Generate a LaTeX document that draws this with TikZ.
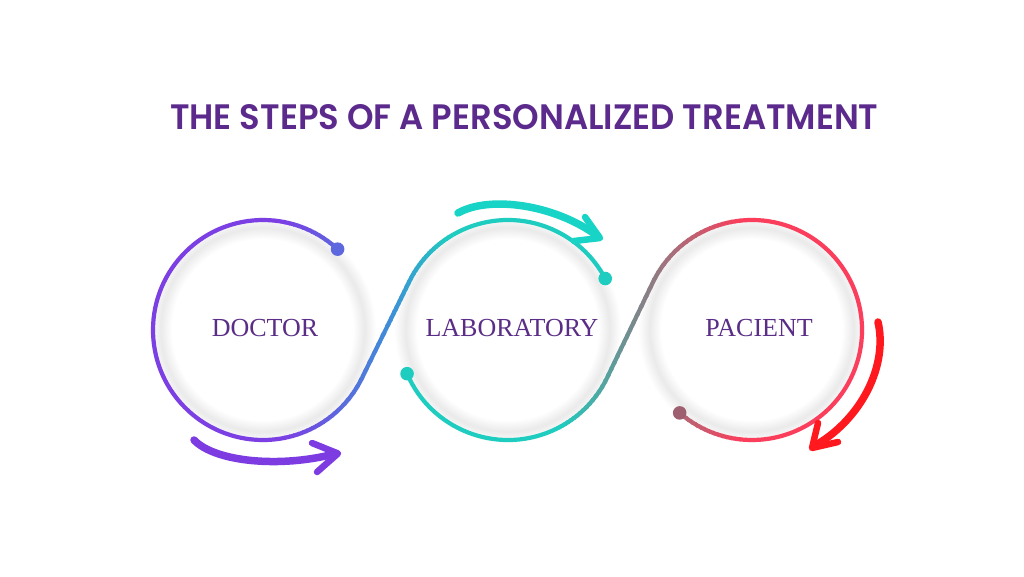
\documentclass[tikz,border=0pt]{standalone}
\usepackage{fontspec}
\setmainfont{Liberation Serif}
\newfontfamily\titlefont{Poppins SemiBold}
\usetikzlibrary{calc}
\definecolor{purpC}{RGB}{123,63,228}
\definecolor{blueC}{RGB}{63,142,216}
\definecolor{tealC}{RGB}{30,205,191}
\definecolor{greyC}{RGB}{122,136,140}
\definecolor{pinkC}{RGB}{250,62,92}
\definecolor{dotC}{RGB}{158,96,112}
\definecolor{arrPurp}{RGB}{124,60,226}
\definecolor{arrTeal}{RGB}{24,212,198}
\definecolor{arrRed}{RGB}{255,24,30}
\definecolor{titleC}{RGB}{91,42,140}
\definecolor{labC}{RGB}{90,45,134}
\tikzset{
  curve/.style={line width=4.2pt, line cap=round},
  brush/.style={line width=7.5pt, line cap=round, line join=round},
  barb/.style={line width=6.5pt, line cap=round, line join=round},
  lab/.style={font=\fontsize{26}{30}\selectfont, text=labC, anchor=base, inner sep=0pt},
  shade ring/.style={draw=black, opacity=0.009},
}
% gradient stroke by vertical strips: #1 path, #2 x0, #3 x1, #4 c0, #5 c1, #6 steps
\newcommand\gstroke[6]{%
  \pgfmathsetmacro\gdx{(#3-#2)/#6}%
  \foreach \i in {1,...,#6}{%
    \pgfmathsetmacro\xa{#2+(\i-1)*\gdx-0.6}%
    \pgfmathsetmacro\xb{#2+\i*\gdx+0.6}%
    \pgfmathtruncatemacro\pc{100*(\i-0.5)/#6}%
    \begin{scope}
      \clip (\xa,-5) rectangle (\xb,600);
      \draw[curve, draw=#5!\pc!#4] #1;
    \end{scope}
  }%
}
% #1 path, #2 x0, #3 xm, #4 x1, #5 c0, #6 cm, #7 c1
\newcommand\gradfull[7]{%
  \begin{scope}\clip (-5,-5) rectangle (#2+0.5,600); \draw[curve, draw=#5] #1; \end{scope}
  \gstroke{#1}{#2}{#3}{#5}{#6}{24}
  \gstroke{#1}{#3}{#4}{#6}{#7}{24}
  \begin{scope}\clip (#4-0.5,-5) rectangle (1030,600); \draw[curve, draw=#7] #1; \end{scope}
}
\begin{document}
\begin{tikzpicture}[x=1pt, y=-1pt]
\useasboundingbox (0,0) rectangle (1024,576);
\fill[white] (0,0) rectangle (1024,576);

\coordinate (C1) at (263,330);
\coordinate (C2) at (508,330);
\coordinate (C3) at (752,330);

% soft shadows (mostly on the inner side)
\foreach \c in {C1,C2,C3}{
  \foreach \k in {1,...,10}{
    \draw[shade ring, line width=2.2*\k] (\c) circle[radius=102];
  }
}

% title
\node[anchor=base west, inner sep=0pt, text=titleC] (title) at (170,129)
  {\resizebox{708pt}{25pt}{\titlefont THE STEPS OF A PERSONALIZED TREATMENT}};

% curve 1: doctor -> laboratory
\gradfull{(C1) ++(-47.3:110) arc[start angle=-47.3,end angle=-333.9,radius=110] -- ($(C2)+(-153.9:110)$) arc[start angle=-153.9,end angle=-27.9,radius=110]}{285}{390}{450}{purpC}{blueC}{tealC}

% curve 2: laboratory -> pacient
\gradfull{(C2) ++(156.6:110) arc[start angle=156.6,end angle=26.1,radius=110] -- ($(C3)+(-153.9:110)$) arc[start angle=-153.9,end angle=131.1,radius=110]}{560}{635}{740}{tealC}{greyC}{pinkC}

% end dots
\fill[blueC!50!purpC] ($(C1)+(-47.3:110)$) circle[radius=6.8];
\fill[tealC] ($(C2)+(-27.9:110)$) circle[radius=6.8];
\fill[tealC] ($(C2)+(156.6:110)$) circle[radius=6.8];
\fill[dotC] ($(C3)+(131.1:110)$) circle[radius=6.8];

% labels
\node[lab] (doctor) at (265,336.5) {DOCTOR};
\node[lab] (lab) at (512,336.5) {LABORATORY};
\node[lab] (pacient) at (759,336.5) {PACIENT};

% brush arrows
\coordinate (a1s) at (194,440);
\coordinate (a1e) at (334,454);
\coordinate (a1u) at (312,443);
\coordinate (a1t) at (338,453.5);
\coordinate (a1l) at (317,472);
\draw[brush, arrPurp] (a1s) .. controls (215,462) and (280,468) .. (a1e);
\draw[barb, arrPurp] (a1u) -- (a1t) -- (a1l);

\coordinate (a2s) at (458,213);
\coordinate (a2e) at (596,235);
\coordinate (a2u) at (585,217);
\coordinate (a2t) at (600,238);
\coordinate (a2l) at (574,241);
\draw[brush, arrTeal] (a2s) .. controls (490,195) and (555,205) .. (a2e);
\draw[barb, arrTeal] (a2u) -- (a2t) -- (a2l);

\coordinate (a3s) at (878,322);
\coordinate (a3e) at (816,445);
\coordinate (a3u) at (818,423);
\coordinate (a3t) at (812,448);
\coordinate (a3l) at (838,442);
\draw[brush, arrRed] (a3s) .. controls (888,365) and (862,418) .. (a3e);
\draw[barb, arrRed] (a3u) -- (a3t) -- (a3l);
\end{tikzpicture}
\end{document}
